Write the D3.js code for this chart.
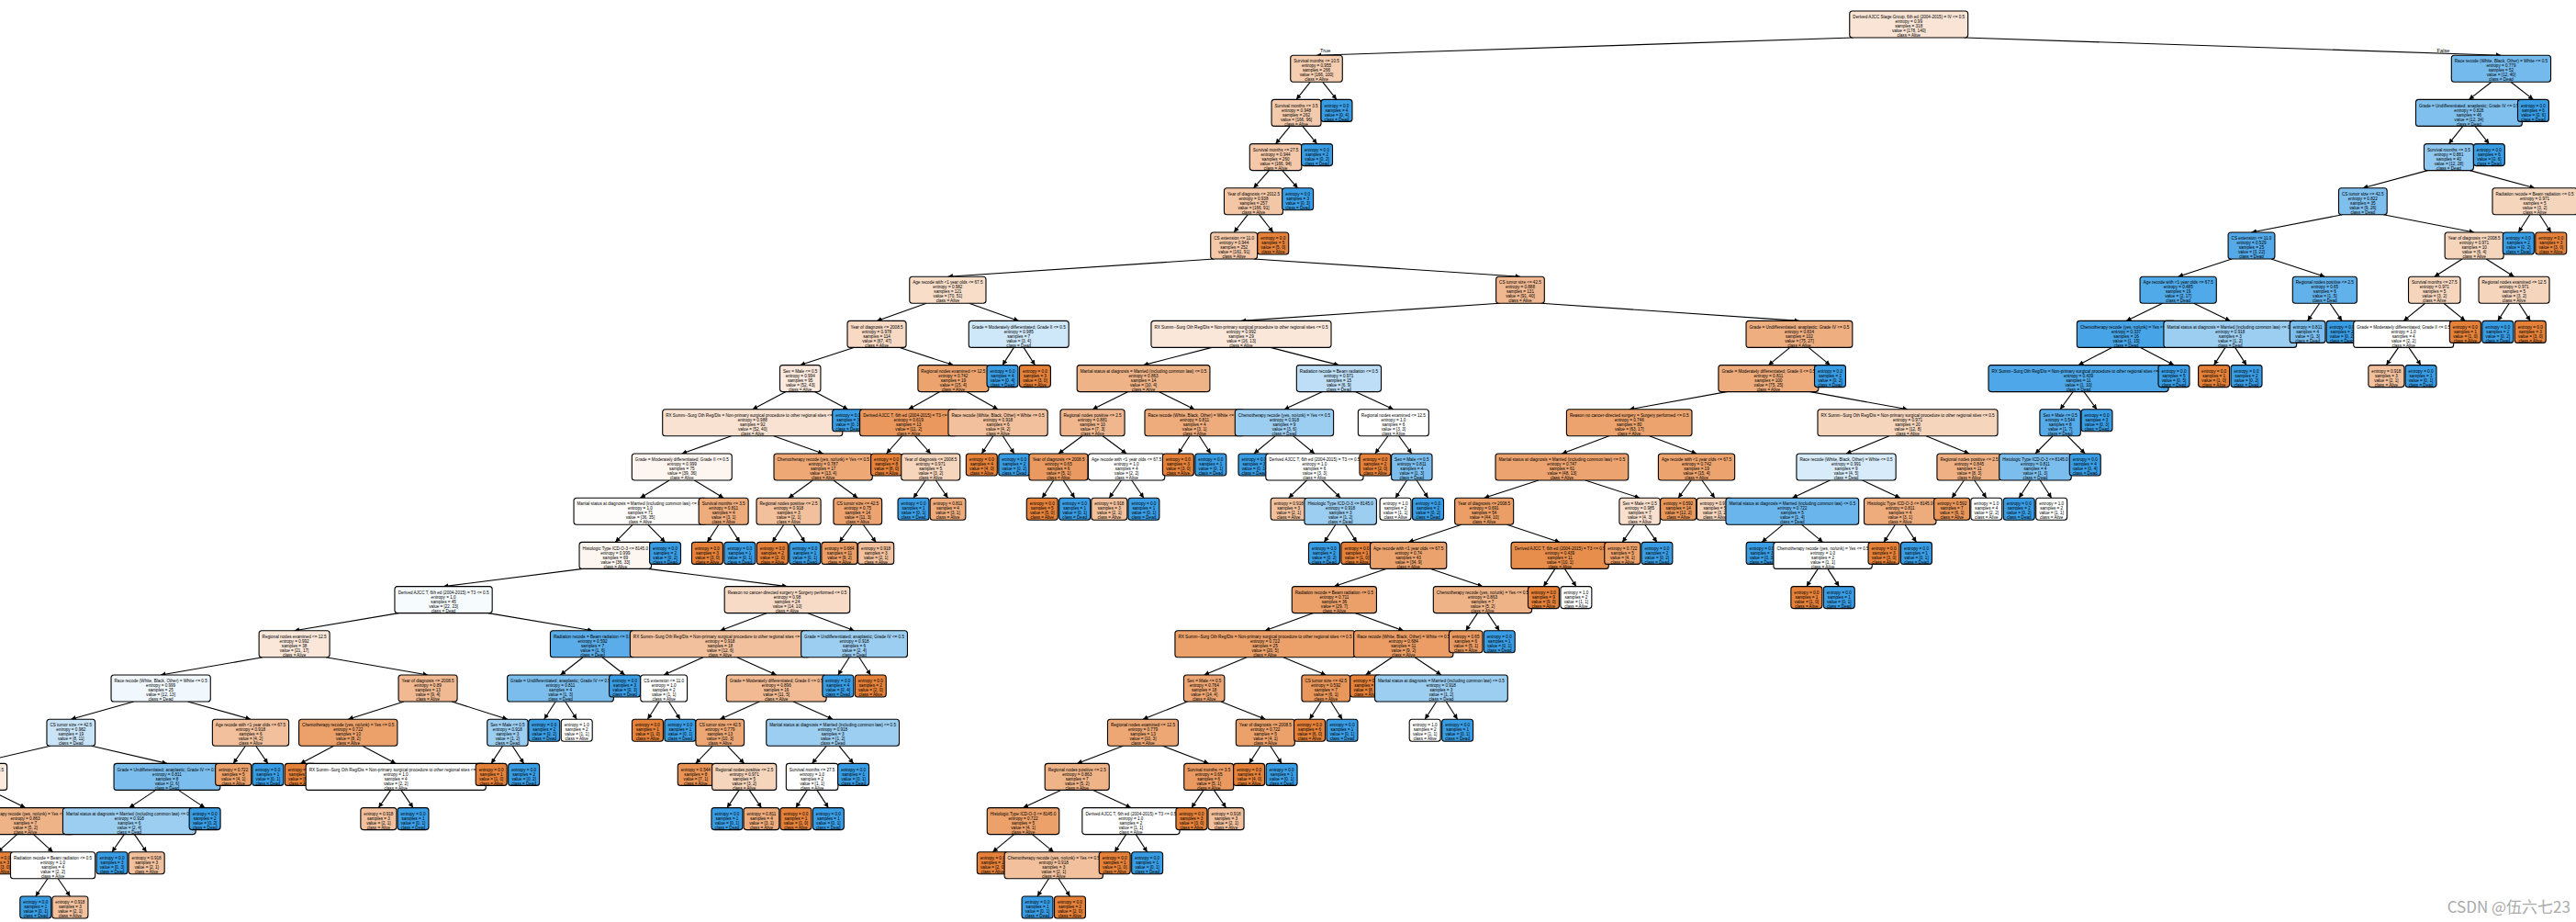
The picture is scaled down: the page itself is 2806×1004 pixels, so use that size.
<!DOCTYPE html>
<html><head><meta charset="utf-8">
<script src="https://cdn.jsdelivr.net/npm/d3@7/dist/d3.min.js"></script>
<style>body{margin:0;background:#fff}</style></head>
<body><svg id="c" width="2806" height="1004"></svg>
<script>
const FEATURES = [
 "Derived AJCC Stage Group, 6th ed (2004-2015) = IV <= 0.5",
 "Survival months <= 10.5",
 "Race recode (White, Black, Other) = White <= 0.5",
 "Grade = Undifferentiated; anaplastic; Grade IV <= 0.5",
 "Survival months <= 3.5",
 "Year of diagnosis <= 2008.5",
 "CS extension <= 11.0",
 "Age recode with <1 year olds <= 67.5",
 "Radiation recode = Beam radiation <= 0.5",
 "RX Summ--Surg Oth Reg/Dis = Non-primary surgical procedure to other regional sites <= 0.5",
 "Regional nodes examined <= 12.5",
 "CS tumor size <= 42.5",
 "Marital status at diagnosis = Married (including common law) <= 0.5",
 "Sex = Male <= 0.5",
 "Chemotherapy recode (yes, no/unk) = Yes <= 0.5",
 "Grade = Moderately differentiated; Grade II <= 0.5",
 "Derived AJCC T, 6th ed (2004-2015) = T3 <= 0.5",
 "Regional nodes positive <= 2.5",
 "Histologic Type ICD-O-3 <= 8145.0",
 "Reason no cancer-directed surgery = Surgery performed <= 0.5",
 "Survival months <= 27.5",
 "Year of diagnosis <= 2012.5"
];
const CLASSES = ["Alive", "Dead"];
// internal node: [featureIndex, left, right]; leaf: [alive, dead]
const TREE =
[0,
 [1,
  [4,
   [20,
    [21,
     [6,
      [7,
       [5,
        [13,
         [9,
          [15,
           [12,
            [18,
             [16,
              [10,
               [2,
                [11,
                 [17,
                  [19,[0,2],[1,1]],
                  [14,[3,0],[8,[0,1],[2,1]]]],
                 [3,
                  [12,[0,3],[2,1]],
                  [0,2]]],
                [7,[4,1],[0,1]]],
               [5,
                [14,[6,0],[9,[2,1],[0,1]]],
                [13,[1,0],[0,2]]]],
              [8,
               [3,[0,2],[1,1]],
               [0,3]]],
             [19,
              [9,
               [6,[1,0],[0,1]],
               [15,
                [11,[7,1],[17,[0,1],[3,1]]],
                [12,
                 [20,[1,0],[0,1]],
                 [0,1]]]],
              [3,[0,4],[2,0]]]],
            [0,2]],
           [4,[3,0],[0,1]]],
          [14,
           [17,[2,0],[0,1]],
           [11,[9,2],[2,1]]]],
         [0,3]],
        [10,
         [16,[8,0],[5,[0,1],[3,1]]],
         [2,[4,0],[0,2]]]],
       [15,[0,4],[3,0]]],
      [11,
       [9,
        [12,
         [17,
          [5,[5,0],[0,1]],
          [7,[2,1],[0,1]]],
         [2,[3,0],[0,1]]],
        [8,
         [14,[0,3],[16,[2,1],[18,[0,2],[1,0]]]],
         [10,[2,0],[13,[1,1],[0,2]]]]],
       [3,
        [15,
         [19,
          [12,
           [5,
            [7,
             [8,
              [9,
               [13,
                [10,
                 [17,
                  [18,[2,0],[14,[0,1],[2,0]]],
                  [16,[1,0],[0,1]]],
                 [4,[3,0],[2,1]]],
                [5,[4,0],[0,1]]],
               [11,[6,0],[0,1]]],
              [2,[8,0],[12,[1,1],[0,1]]]],
             [14,[5,1],[0,1]]],
            [16,[9,0],[1,1]]],
           [13,[4,1],[0,2]]],
          [7,[12,2],[3,2]]],
         [9,
          [2,
           [12,[0,3],[14,[1,0],[0,1]]],
           [18,[3,0],[0,1]]],
          [17,[6,1],[2,2]]]],
        [0,2]]]],
     [5,0]],
    [0,3]],
   [0,2]],
  [0,4]],
 [2,
  [3,
   [4,
    [11,
     [6,
      [7,
       [14,
        [9,
         [13,
          [18,[0,2],[1,1]],
          [0,4]],
         [0,3]],
        [0,5]],
       [12,[1,0],[0,2]]],
      [17,[1,3],[0,2]]],
     [5,
      [20,
       [15,[2,1],[0,1]],
       [1,0]],
      [10,[0,2],[3,0]]]],
    [8,[0,2],[3,0]]],
   [0,6]],
  [0,6]]];

const ORANGE=[229,129,57], BLUE=[57,157,229];
function build(n){
  if(n.length===2) return {v:n.slice()};
  const l=build(n[1]), r=build(n[2]);
  return {f:FEATURES[n[0]], children:[l,r], v:[l.v[0]+r.v[0], l.v[1]+r.v[1]]};
}
const data = build(TREE);
const FS=4.6, LH=5.0;
const cv=document.createElement("canvas").getContext("2d");
cv.font=FS+"px 'Liberation Sans', Arial";
function ent(v){const s=v[0]+v[1];let e=0;for(const x of v){if(x>0){const p=x/s;e-=p*Math.log2(p);}}return e;}
function fmt(e){let s=(Math.round(e*1000)/1000).toString(); if(!s.includes("."))s+=".0"; return s;}
const root=d3.hierarchy(data);
root.each(d=>{
  const v=d.data.v, s=v[0]+v[1];
  const lines=[];
  if(d.data.f) lines.push(d.data.f);
  lines.push("entropy = "+fmt(ent(v)));
  lines.push("samples = "+s);
  lines.push("value = ["+v[0]+", "+v[1]+"]");
  lines.push("class = "+(v[0]>=v[1]?CLASSES[0]:CLASSES[1]));
  d.lines=lines;
  d.w=d3.max(lines,t=>cv.measureText(t).width)+7;
  d.h=lines.length*LH+4;
  const pa=v[0]/s, pb=v[1]/s, mx=Math.max(pa,pb), mn=Math.min(pa,pb);
  const alpha=(mx-mn)/(1-mn);
  const c=pa>=pb?ORANGE:BLUE;
  d.fill=`rgb(${c.map(x=>Math.round(alpha*x+(1-alpha)*255)).join(",")})`;
});
d3.tree().nodeSize([1,1]).separation((a,b)=>(a.w+b.w)/2+8)(root);
const maxDepth=d3.max(root.descendants(),d=>d.depth);
const levelH=(1002-12-26)/maxDepth;
const xs=root.descendants();
const x0=d3.min(xs,d=>d.x-d.w/2), x1=d3.max(xs,d=>d.x+d.w/2);
const k=Math.min(1,(2800+140)/(x1-x0));
const xScale=d3.scaleLinear().domain([x1-(2940)/k,x1]).range([-140,2800]);
xs.forEach(d=>{d.px=xScale(d.x); d.py=12+d.depth*levelH;});

const svg=d3.select("#c");
svg.append("rect").attr("width",2806).attr("height",1004).attr("fill","#fff");
svg.append("defs").append("marker").attr("id","ar").attr("viewBox","0 0 10 10")
 .attr("refX",10).attr("refY",5).attr("markerWidth",5).attr("markerHeight",5).attr("orient","auto")
 .append("path").attr("d","M0,0L10,5L0,10z").attr("fill","#000");
const g=svg.append("g");
g.selectAll("line").data(root.links()).join("line")
 .attr("x1",d=>{const dx=d.target.px-d.source.px;return d.source.px+Math.max(-d.source.w/2+4,Math.min(d.source.w/2-4,dx*0.3));})
 .attr("y1",d=>d.source.py+d.source.h)
 .attr("x2",d=>d.target.px).attr("y2",d=>d.target.py)
 .attr("stroke","#000").attr("stroke-width",1.1).attr("marker-end","url(#ar)");
root.children.forEach((c,i)=>{
  g.append("text").attr("x",i===0?c.px+4:c.px-c.w/2-2).attr("y",c.py-3)
   .attr("text-anchor",i===0?"start":"end")
   .attr("font-size",FS+1).attr("font-family","'Liberation Sans', Arial")
   .text(i===0?"True":"False");
});
const node=g.selectAll("g.n").data(xs).join("g").attr("class","n")
 .attr("transform",d=>`translate(${d.px-d.w/2},${d.py})`);
node.append("rect").attr("width",d=>d.w).attr("height",d=>d.h).attr("rx",3)
 .attr("fill",d=>d.fill).attr("stroke","#000").attr("stroke-width",1.1);
node.each(function(d){
  const s=d3.select(this);
  d.lines.forEach((t,i)=>s.append("text").attr("x",d.w/2).attr("y",4+LH*(i+0.85))
    .attr("text-anchor","middle").attr("font-size",FS)
    .attr("font-family","'Liberation Sans', Arial").text(t));
});
svg.append("text").attr("x",2800).attr("y",994).attr("text-anchor","end")
 .attr("font-size",17).attr("fill","#aaa").attr("font-family","'Noto Sans CJK SC'")
 .text("CSDN @伍六七23");
</script></body></html>
